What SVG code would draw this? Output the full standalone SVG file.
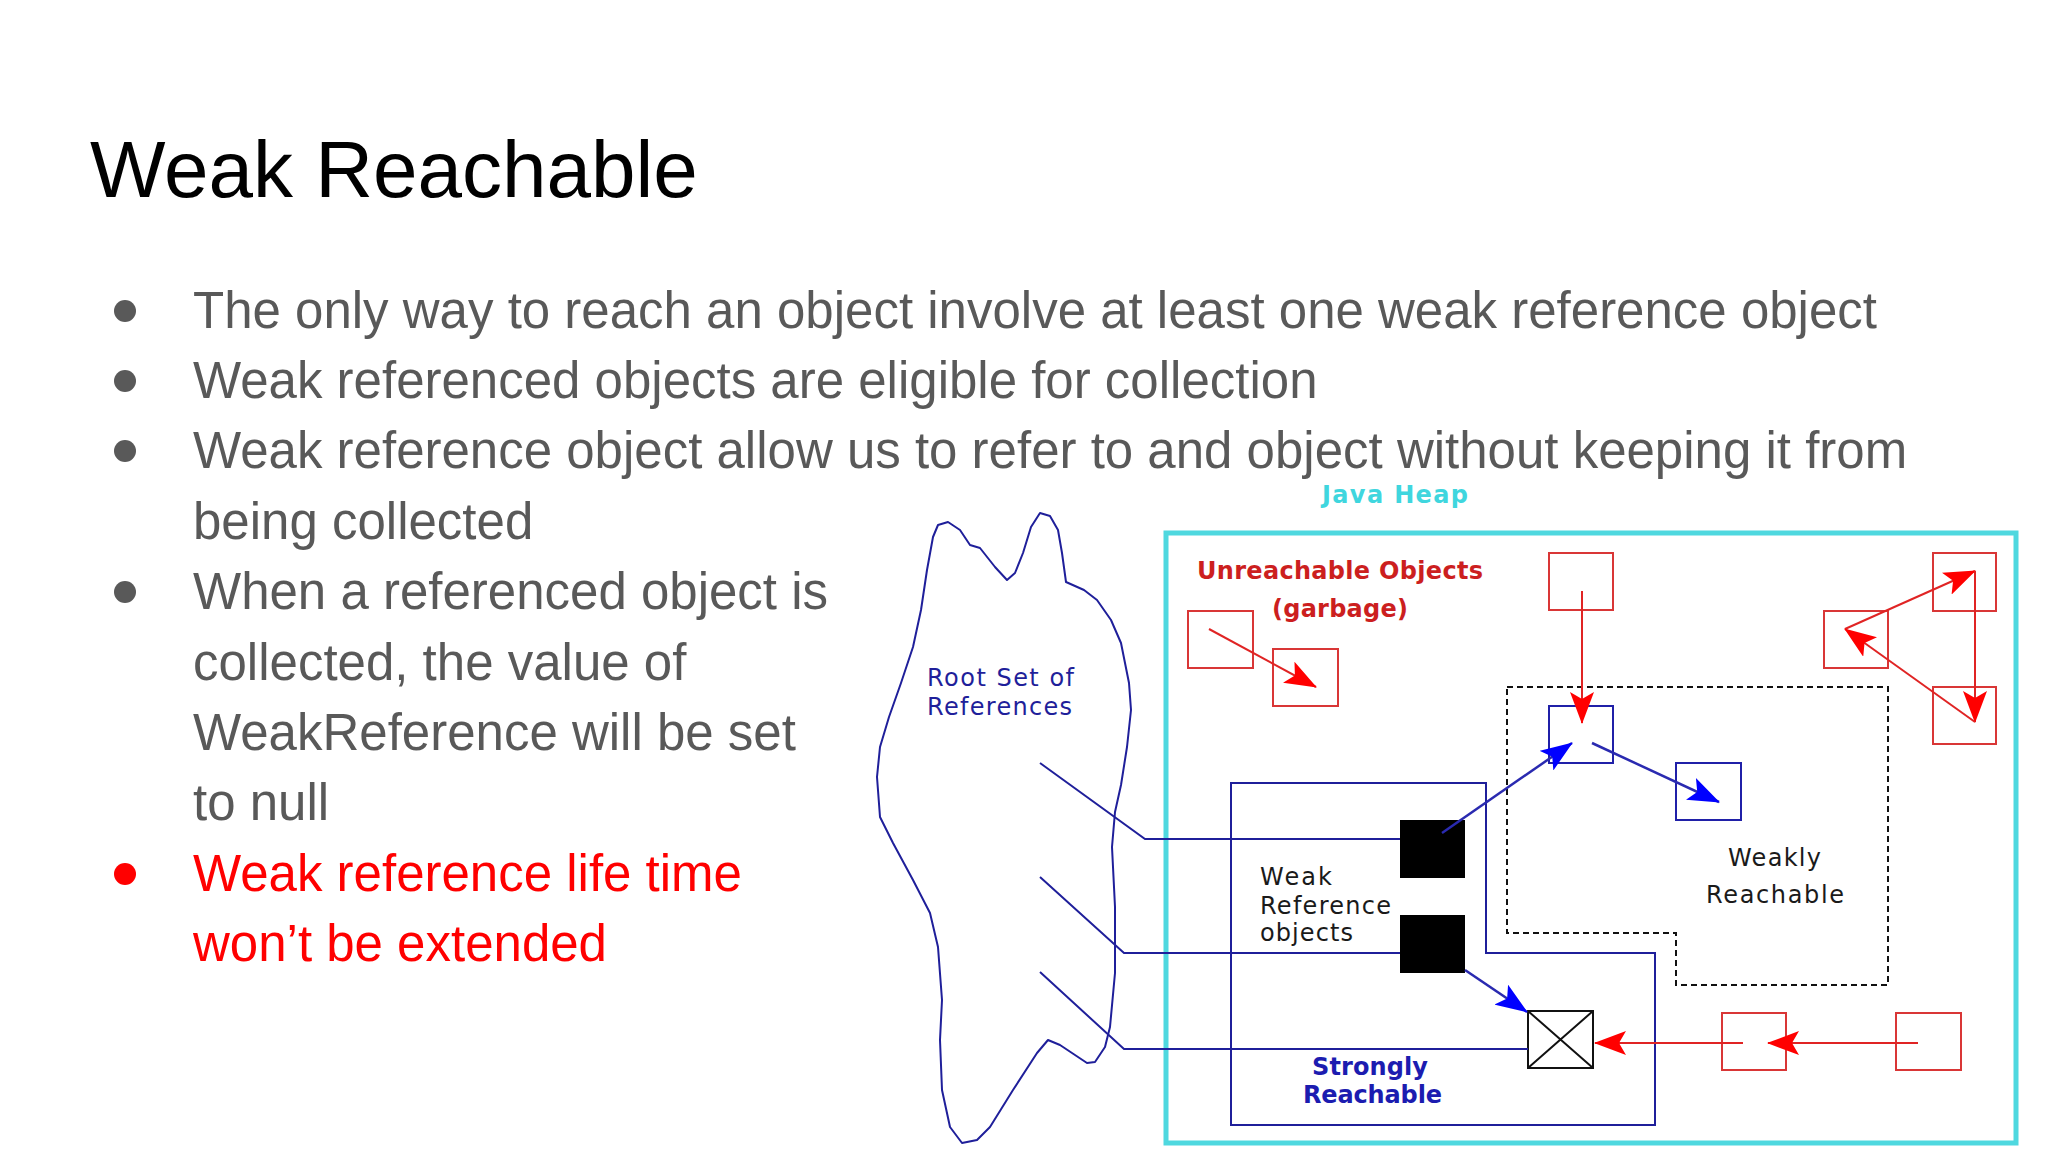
<svg xmlns="http://www.w3.org/2000/svg" width="2048" height="1152" viewBox="0 0 2048 1152">
<style>
.title{font-family:"Liberation Sans",Arial,sans-serif;font-size:80px;fill:#000}
.body{font-family:"Liberation Sans",Arial,sans-serif;font-size:51px;fill:#595959}
.red{fill:#ff0000}
.lbl{font-family:"DejaVu Sans","Liberation Sans",sans-serif;font-size:24px}
.b{font-weight:bold}
.navy{stroke:#1f1f9a;stroke-width:2;fill:none}
.rbox{stroke:#d93636;stroke-width:2;fill:none}
.bbox{stroke:#2020a8;stroke-width:2;fill:none}
.rline{stroke:#e02424;stroke-width:2;fill:none}
.bline{stroke:#2a2ab0;stroke-width:2.5;fill:none}
</style>
<defs>
<marker id="ar" viewBox="0 0 32 24" refX="31" refY="12" markerWidth="32" markerHeight="24" markerUnits="userSpaceOnUse" orient="auto">
<path d="M0,0 L32,12 L0,24 L7,12 z" fill="#ff0000"/>
</marker>
<marker id="ab" viewBox="0 0 32 24" refX="31" refY="12" markerWidth="32" markerHeight="24" markerUnits="userSpaceOnUse" orient="auto">
<path d="M0,0 L32,12 L0,24 L7,12 z" fill="#0000ff"/>
</marker>
</defs>
<rect width="2048" height="1152" fill="#ffffff"/>

<g id="slide-text">
<text class="title" x="90" y="197">Weak Reachable</text>
<g class="body">
<circle cx="125" cy="311" r="11" fill="#595959"/>
<text class="body" x="193" y="328">The only way to reach an object involve at least one weak reference object</text>
<circle cx="125" cy="381" r="11" fill="#595959"/>
<text class="body" x="193" y="398">Weak referenced objects are eligible for collection</text>
<circle cx="125" cy="451" r="11" fill="#595959"/>
<text class="body" x="193" y="468">Weak reference object allow us to refer to and object without keeping it from</text>
<text class="body" x="193" y="539">being collected</text>
<circle cx="125" cy="592" r="11" fill="#595959"/>
<text class="body" x="193" y="609">When a referenced object is</text>
<text class="body" x="193" y="680">collected, the value of</text>
<text class="body" x="193" y="750">WeakReference will be set</text>
<text class="body" x="193" y="820">to null</text>
<circle cx="125" cy="874" r="11" fill="#ff0000"/>
<text class="body red" x="193" y="891">Weak reference life time</text>
<text class="body red" x="193" y="961">won’t be extended</text>
</g>
</g>

<g id="root-set">
<path class="navy" stroke-linejoin="round" d="M938,525 L948,522 L960,530 L970,545 L980,548 L995,567 L1007,580 L1015,573 L1023,553 L1031,527 L1040,513 L1050,516 L1058,530 L1062,553 L1066,582 L1084,590 L1097,600 L1111,620 L1121,643 L1129,683 L1131,710 L1127,747 L1121,785 L1115,812 L1112,847 L1115,907 L1115,973 L1110,1027 L1105,1047 L1095,1062 L1087,1063 L1060,1045 L1048,1040 L1037,1053 L1013,1090 L990,1127 L977,1140 L962,1143 L950,1127 L942,1090 L940,1040 L942,1000 L938,947 L930,913 L913,880 L893,843 L880,817 L877,777 L880,747 L889,717 L901,683 L913,647 L921,610 L927,570 L933,537 Z"/>
<text class="lbl" x="927" y="686" fill="#1f1f9a" textLength="147" lengthAdjust="spacing">Root Set of</text>
<text class="lbl" x="927" y="715" fill="#1f1f9a" textLength="145" lengthAdjust="spacing">References</text>
</g>

<g id="java-heap">
<rect x="1166" y="533" width="850" height="610" fill="none" stroke="#4fd8df" stroke-width="5"/>
<text class="lbl b" x="1322" y="503" fill="#3fd6de" textLength="146" lengthAdjust="spacing">Java Heap</text>
</g>

<g id="unreachable">
<text class="lbl b" x="1197" y="579" fill="#cc1f1f" textLength="286" lengthAdjust="spacing">Unreachable Objects</text>
<text class="lbl b" x="1272" y="617" fill="#cc1f1f" textLength="136" lengthAdjust="spacing">(garbage)</text>
<rect id="obj-a" class="rbox" x="1188" y="611" width="65" height="57"/>
<rect id="obj-b" class="rbox" x="1273" y="649" width="65" height="57"/>
<rect id="obj-c" class="rbox" x="1549" y="553" width="64" height="57"/>
<rect id="obj-f" class="rbox" x="1933" y="553" width="63" height="58"/>
<rect id="obj-g" class="rbox" x="1824" y="611" width="64" height="57"/>
<rect id="obj-h" class="rbox" x="1933" y="687" width="63" height="57"/>
<rect id="obj-i" class="rbox" x="1722" y="1013" width="64" height="57"/>
<rect id="obj-j" class="rbox" x="1896" y="1013" width="65" height="57"/>
</g>

<g id="weakly-reachable">
<path d="M1507,687 L1888,687 L1888,985 L1676,985 L1676,933 L1507,933 Z" fill="none" stroke="#111" stroke-width="2" stroke-dasharray="6,4"/>
<rect id="obj-d" class="bbox" x="1549" y="706" width="64" height="57"/>
<rect id="obj-e" class="bbox" x="1676" y="763" width="65" height="57"/>
<text class="lbl" x="1728" y="866" fill="#1a1a1a" textLength="93" lengthAdjust="spacing">Weakly</text>
<text class="lbl" x="1706" y="903" fill="#1a1a1a" textLength="138" lengthAdjust="spacing">Reachable</text>
</g>

<g id="strongly-reachable">
<path class="navy" d="M1231,783 L1486,783 L1486,953 L1655,953 L1655,1125 L1231,1125 Z"/>
<rect id="weakref-1" x="1400" y="820" width="65" height="58" fill="#000"/>
<rect id="weakref-2" x="1400" y="915" width="65" height="58" fill="#000"/>
<g id="obj-x" stroke="#111" stroke-width="2" fill="none">
<rect x="1528" y="1011" width="65" height="57"/>
<path d="M1528,1011 L1593,1068 M1593,1011 L1528,1068"/>
</g>
<text class="lbl" x="1260" y="885" fill="#1a1a1a" textLength="72" lengthAdjust="spacing">Weak</text>
<text class="lbl" x="1260" y="914" fill="#1a1a1a" textLength="131" lengthAdjust="spacing">Reference</text>
<text class="lbl" x="1260" y="941" fill="#1a1a1a" textLength="93" lengthAdjust="spacing">objects</text>
<text class="lbl b" x="1312" y="1075" fill="#1c1cb0" textLength="116" lengthAdjust="spacing">Strongly</text>
<text class="lbl b" x="1303" y="1103" fill="#1c1cb0" textLength="139" lengthAdjust="spacing">Reachable</text>
</g>

<g id="connectors">
<path class="navy" d="M1040,763 L1145,839 L1400,839"/>
<path class="navy" d="M1040,877 L1124,953 L1400,953"/>
<path class="navy" d="M1040,972 L1124,1049 L1528,1049"/>
<path class="rline" d="M1209,629 L1316,687" marker-end="url(#ar)"/>
<path class="rline" d="M1582,591 L1582,723" marker-end="url(#ar)"/>
<path class="rline" d="M1845,629 L1975,571" marker-end="url(#ar)"/>
<path class="rline" d="M1975,571 L1975,722" marker-end="url(#ar)"/>
<path class="rline" d="M1975,722 L1845,629" marker-end="url(#ar)"/>
<path class="rline" d="M1918,1043 L1768,1043" marker-end="url(#ar)"/>
<path class="rline" d="M1743,1043 L1595,1043" marker-end="url(#ar)"/>
<path class="bline" d="M1442,833 L1572,743" marker-end="url(#ab)"/>
<path class="bline" d="M1592,743 L1719,802" marker-end="url(#ab)"/>
<path class="bline" d="M1465,970 L1527,1012" marker-end="url(#ab)"/>
</g>
</svg>
